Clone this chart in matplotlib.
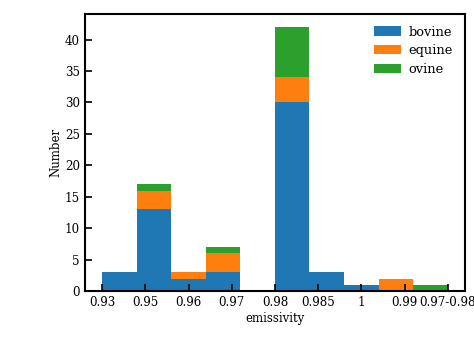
import numpy as np
import matplotlib
matplotlib.use("Agg")
import matplotlib.pyplot as plt

categories = ["0.93", "0.95", "0.96", "0.97", "0.98", "0.985", "1", "0.99", "0.97-0.98"]
bovine = [3, 13, 2, 3, 30, 3, 1, 0, 0]
equine = [0, 3, 1, 3, 4, 0, 0, 2, 0]
ovine = [0, 1, 0, 1, 8, 0, 0, 0, 1]
labels = ["bovine", "equine", "ovine"]

plt.rcParams["font.family"] = "DejaVu Serif"
fig = plt.figure(figsize=(4.74, 3.55), dpi=100)
ax = fig.add_axes([0.179, 0.180, 0.802, 0.781])

idx = np.arange(len(categories))
data = [np.repeat(idx, c) for c in (bovine, equine, ovine)]
ax.hist(data, bins=10, range=(0, len(categories) - 1), stacked=True,
        label=labels, color=["#1f77b4", "#ff7f0e", "#2ca02c"])

ax.set_xticks(idx)
ax.set_xticklabels(categories)
ax.set_yticks(np.arange(0, 45, 5))
ax.tick_params(direction="in", length=5, width=1.2, labelsize=8.6)
for s in ax.spines.values():
    s.set_linewidth(1.5)
ax.set_xlabel("emissivity", fontsize=8.5, labelpad=2)
ax.set_ylabel("Number", fontsize=8.5, labelpad=2)
ax.legend(frameon=False, fontsize=9.4, loc="upper right", handlelength=2.1,
          labelspacing=0.45, handletextpad=0.6)

fig.savefig("out.png", dpi=100)
